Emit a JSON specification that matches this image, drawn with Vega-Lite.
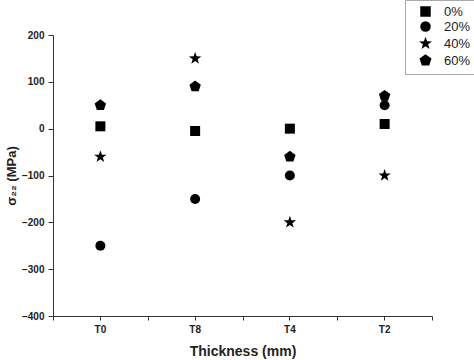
{
  "$schema": "https://vega.github.io/schema/vega-lite/v6.json",
  "width": 379,
  "height": 281,
  "autosize": {"type": "none"},
  "padding": {"left": 53, "top": 35, "right": 42, "bottom": 44},
  "background": "white",
  "config": {
    "view": {"stroke": null},
    "font": "Liberation Sans",
    "axis": {
      "grid": false,
      "domainColor": "#333333",
      "tickColor": "#333333",
      "labelColor": "#222222",
      "labelFont": "Liberation Sans",
      "labelFontWeight": "bold",
      "labelFontSize": 10,
      "titleFont": "Liberation Sans",
      "titleFontWeight": "bold",
      "titleColor": "#222222"
    }
  },
  "data": {
    "values": [
      {"thickness": "T0", "strain": "0%", "stress": 5},
      {"thickness": "T0", "strain": "20%", "stress": -250},
      {"thickness": "T0", "strain": "40%", "stress": -60},
      {"thickness": "T0", "strain": "60%", "stress": 50},
      {"thickness": "T8", "strain": "0%", "stress": -5},
      {"thickness": "T8", "strain": "20%", "stress": -150},
      {"thickness": "T8", "strain": "40%", "stress": 150},
      {"thickness": "T8", "strain": "60%", "stress": 90},
      {"thickness": "T4", "strain": "0%", "stress": 0},
      {"thickness": "T4", "strain": "20%", "stress": -100},
      {"thickness": "T4", "strain": "40%", "stress": -200},
      {"thickness": "T4", "strain": "60%", "stress": -60},
      {"thickness": "T2", "strain": "0%", "stress": 10},
      {"thickness": "T2", "strain": "20%", "stress": 50},
      {"thickness": "T2", "strain": "40%", "stress": -100},
      {"thickness": "T2", "strain": "60%", "stress": 70}
    ]
  },
  "layer": [
    {
      "mark": {"type": "point", "filled": true, "color": "black", "opacity": 1, "size": 100},
      "encoding": {
        "x": {
          "field": "thickness", "type": "nominal", "sort": ["T0", "T8", "T4", "T2"],
          "scale": {"type": "band", "paddingInner": 0, "paddingOuter": 0},
          "axis": {
            "orient": "bottom", "labelAngle": 0, "bandPosition": 0.5, "tickSize": 4,
            "labelPadding": 4, "title": "Thickness (mm)", "titleFontSize": 14, "titlePadding": 10
          }
        },
        "y": {
          "field": "stress", "type": "quantitative",
          "scale": {"domain": [-400, 200], "nice": false, "zero": false},
          "axis": {
            "values": [-400, -350, -300, -250, -200, -150, -100, -50, 0, 50, 100, 150, 200],
            "labelExpr": "datum.value % 100 === 0 ? datum.label : ''",
            "tickSize": {"condition": {"test": "datum.value % 100 === 0", "value": 5}, "value": 3},
            "labelPadding": 4,
            "title": "σ₂₂ (MPa)", "titleFontSize": 13, "titlePadding": 3
          }
        },
        "shape": {
          "field": "strain", "type": "nominal",
          "scale": {
            "domain": ["0%", "20%", "40%", "60%"],
            "range": [
              "square", "circle",
              "M0,-1.3L0.306,-0.421L1.236,-0.402L0.494,0.161L0.764,1.052L0,0.52L-0.764,1.052L-0.494,0.161L-1.236,-0.402L-0.306,-0.421Z",
              "M0,-1.2L1.141,-0.371L0.706,0.971L-0.706,0.971L-1.141,-0.371Z"
            ]
          },
          "legend": {
            "orient": "none", "legendX": 352, "legendY": -35, "title": null,
            "strokeColor": "#aaaaaa", "fillColor": "white", "padding": 5,
            "symbolSize": 110, "symbolFillColor": "black", "symbolStrokeColor": "black",
            "symbolOffset": 9, "labelOffset": 12, "labelFontSize": 13, "labelColor": "#222222",
            "labelFont": "Liberation Sans", "rowPadding": -2
          }
        }
      }
    },
    {
      "mark": {"type": "point", "opacity": 0},
      "encoding": {
        "x": {
          "field": "thickness", "type": "nominal", "sort": ["T0", "T8", "T4", "T2"],
          "scale": {"type": "band", "paddingInner": 0, "paddingOuter": 0},
          "axis": {
            "orient": "bottom", "labels": false, "domain": false, "tickBand": "extent",
            "tickSize": 4, "title": null
          }
        },
        "y": {"field": "stress", "type": "quantitative"}
      }
    }
  ],
  "resolve": {"axis": {"x": "independent"}}
}
